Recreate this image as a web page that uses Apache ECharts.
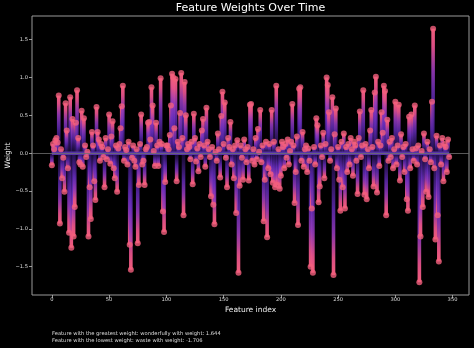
<!DOCTYPE html>
<html>
<head>
<meta charset="utf-8">
<script src="https://cdn.jsdelivr.net/npm/echarts@6/dist/echarts.min.js"></script>
<style>
  html, body { margin: 0; padding: 0; background: #000; }
  #chart { width: 474px; height: 348px; }
</style>
</head>
<body>
<div id="chart"></div>
<script>
// Final learned weight of every feature (index = position in this list)
const weights = [
  -0.16, 0.12, 0.05, 0.17, 0.20, 0.14, 0.76, -0.93, 0.05, -0.33,
  -0.06, -0.51, 0.66, 0.30, -0.20, -1.05, 0.74, -1.25, 0.45, -1.10,
  -0.71, 0.40, 0.83, 0.20, -0.12, -0.15, 0.56, -0.18, 0.46, 0.10,
  -0.05, 0.02, -1.10, -0.45, -0.87, 0.28, 0.10, -0.37, -0.62, 0.61,
  0.28, 0.18, -0.10, 0.12, 0.08, -0.05, -0.45, 0.20, -0.08, 0.05,
  0.51, -0.14, 0.22, 0.42, -0.20, -0.33, 0.10, -0.51, 0.06, 0.12,
  0.33, 0.62, 0.89, -0.10, 0.08, 0.04, -0.15, 0.15, -1.21, -1.54,
  -0.06, 0.10, -0.10, -0.18, 0.05, -1.19, -0.42, 0.12, 0.51, -0.15,
  -0.10, -0.42, 0.05, 0.08, 0.40, 0.41, 0.18, 0.87, 0.63, 0.03,
  -0.17, 0.40, 0.10, -0.17, 0.15, 0.99, 0.12, -0.77, -1.04, -0.38,
  0.10, 0.10, 0.05, 0.24, 0.63, 1.05, 1.00, 0.33, 0.98, -0.37,
  0.15, 0.08, 0.53, 1.06, 0.20, -0.82, 0.94, 0.50, 0.05, 0.12,
  0.08, -0.08, 0.15, -0.41, 0.52, 0.20, -0.11, 0.06, -0.24, 0.12,
  -0.05, 0.30, 0.45, 0.10, -0.18, 0.60, 0.15, 0.05, -0.05, -0.57,
  0.08, -0.68, -0.94, 0.02, -0.10, 0.26, 0.05, -0.32, 0.49, 0.81,
  0.12, 0.67, -0.06, -0.45, 0.20, 0.08, 0.41, -0.15, 0.05, -0.33,
  0.10, -0.79, 0.17, -1.58, -0.43, 0.10, -0.06, -0.35, 0.18, 0.05,
  -0.12, 0.08, -0.36, 0.64, 0.65, -0.10, 0.05, -0.15, 0.20, -0.08,
  0.32, 0.02, 0.57, -0.12, 0.10, -0.90, -0.35, 0.15, -1.11, -0.20,
  0.12, -0.28, 0.57, -0.39, 0.15, -0.45, 0.89, -0.42, 0.05, -0.47,
  -0.30, 0.15, 0.08, -0.20, 0.12, -0.06, 0.18, -0.15, 0.03, 0.15,
  0.65, 0.10, -0.66, -0.25, 0.22, -0.95, 0.85, 0.87, -0.10, 0.28,
  -0.18, 0.05, 0.10, -0.25, 0.06, -0.10, -1.50, -0.73, -1.58, 0.08,
  -0.15, 0.46, 0.37, -0.65, -0.44, 0.10, -0.05, 0.27, -0.33, 0.12,
  1.00, 0.90, 0.54, -0.10, 0.05, 0.74, -1.61, 0.25, 0.59, -0.20,
  0.08, -0.35, -0.76, 0.15, -0.45, 0.26, -0.73, 0.08, -0.25, 0.12,
  -0.15, 0.20, 0.05, -0.30, 0.15, 0.10, -0.10, -0.54, 0.20, 0.55,
  -0.05, 0.10, 0.83, -0.55, 0.12, -0.61, 0.05, -0.20, 0.30, 0.57,
  0.08, -0.44, 0.80, 1.01, -0.52, 0.15, -0.17, 0.10, 0.54, 0.27,
  0.89, 0.82, -0.82, 0.44, -0.10, 0.15, -0.05, 0.20, -0.20, 0.05,
  0.68, -0.15, 0.10, 0.64, -0.36, 0.25, -0.05, 0.08, -0.25, 0.12,
  -0.61, -0.76, 0.48, -0.20, 0.51, 0.05, -0.10, 0.63, 0.06, -0.15,
  0.10, -1.706, -1.10, 0.03, -0.71, 0.26, -0.08, -0.51, 0.15, -0.58,
  0.05, -0.12, 0.68, 1.644, -0.20, -1.14, 0.23, -0.82, -1.43, 0.10,
  -0.15, 0.20, -0.37, 0.12, 0.08, -0.25, 0.18, -0.05
];

// Vocabulary word behind each extreme feature
const greatestWord = 'wonderfully';
const lowestWord = 'waste';

const xTicks = [0, 50, 100, 150, 200, 250, 300, 350];
const yTicks = [-1.5, -1.0, -0.5, 0.0, 0.5, 1.0, 1.5];

const featureIndex = weights.map((_, i) => i);
const trailData = featureIndex.map(i => [i, weights[i]]);
const baseline = featureIndex.map(i => [i, 0]);

// Axis limits with a 5% margin on each side of the data
const n = weights.length - 1;
const wMax = Math.max(...weights);
const wMin = Math.min(...weights);
const wSpan = wMax - wMin;
const xMin = -0.05 * n, xMax = n * 1.05;
const yMin = wMin - 0.05 * wSpan, yMax = wMax + 0.05 * wSpan;

const FONT = 'DejaVu Sans';

// Colour stops of a trail: offset 0 is the final weight, offset 1 the starting point
const trailStops = [
  { offset: 0.00, color: 'rgba(242, 94, 124, 1)' },
  { offset: 0.14, color: 'rgba(230, 82, 138, 0.95)' },
  { offset: 0.34, color: 'rgba(150, 58, 186, 0.9)' },
  { offset: 0.55, color: 'rgba(104, 46, 192, 0.8)' },
  { offset: 1.00, color: 'rgba(58, 26, 128, 0.35)' }
];

const fmtY = v => (v < 0 ? '\u2212' : '') + Math.abs(v).toFixed(1);

const chart = echarts.init(document.getElementById('chart'), null, { renderer: 'canvas' });

chart.setOption({
  backgroundColor: '#000',
  animation: false,
  textStyle: { fontFamily: FONT },
  grid: {
    left: 32, right: 5, top: 16, bottom: 53,
    containLabel: false, outerBoundsMode: 'none',
    show: true, borderColor: '#9a9a9a', borderWidth: 1, backgroundColor: 'transparent'
  },
  xAxis: {
    type: 'value', min: xMin, max: xMax,
    axisLine: { show: false, onZero: false },
    splitLine: { show: false },
    axisTick: { show: true, length: 3, customValues: xTicks, lineStyle: { color: '#bbb', width: 0.8 } },
    axisLabel: { customValues: xTicks, fontSize: 5.2, color: '#ddd', margin: 2, fontFamily: FONT },
    name: 'Feature index', nameLocation: 'middle', nameGap: 11, nameMoveOverlap: false,
    nameTextStyle: { fontSize: 7.5, color: '#eee', fontFamily: FONT }
  },
  yAxis: {
    type: 'value', min: yMin, max: yMax,
    axisLine: { show: false, onZero: false },
    splitLine: { show: false },
    axisTick: { show: true, length: 3, customValues: yTicks, lineStyle: { color: '#bbb', width: 0.8 } },
    axisLabel: { customValues: yTicks, fontSize: 5.2, color: '#ddd', margin: 4, fontFamily: FONT, formatter: fmtY },
    name: 'Weight', nameLocation: 'middle', nameGap: 20, nameRotate: 90, nameMoveOverlap: false,
    nameTextStyle: { fontSize: 7.5, color: '#eee', fontFamily: FONT }
  },
  series: [
    {
      // weight trail from the start value to the final value
      type: 'bar',
      data: trailData,
      barWidth: 3.6,
      z: 2,
      itemStyle: {
        color: p => {
          const up = p.value[1] >= 0;
          return new echarts.graphic.LinearGradient(0, up ? 0 : 1, 0, up ? 1 : 0, trailStops);
        }
      }
    },
    {
      // early-epoch weights, all close to zero
      type: 'line',
      data: baseline,
      showSymbol: false,
      z: 3,
      lineStyle: { color: '#5634a6', width: 3.5 },
      markLine: {
        silent: true, symbol: 'none',
        label: { show: false },
        lineStyle: { color: '#6e6e6e', width: 0.8, type: 'solid' },
        data: [{ yAxis: 0 }]
      }
    },
    {
      // final weight of each feature
      type: 'scatter',
      data: trailData,
      symbolSize: 6,
      z: 4,
      itemStyle: { color: '#f35f7d' }
    }
  ],
  graphic: [
    {
      type: 'text', x: 250.5, y: 8.5, z: 10,
      style: { text: 'Feature Weights Over Time', fill: '#fff', fontSize: 11, fontFamily: FONT, align: 'center', verticalAlign: 'middle' }
    },
    {
      type: 'text', x: 52, y: 333.5, z: 10,
      style: { text: 'Feature with the greatest weight: ' + greatestWord + ' with weight: ' + wMax.toFixed(3), fill: '#ddd', fontSize: 5.2, fontFamily: FONT, align: 'left', verticalAlign: 'middle' }
    },
    {
      type: 'text', x: 52, y: 341, z: 10,
      style: { text: 'Feature with the lowest weight: ' + lowestWord + ' with weight: ' + wMin.toFixed(3), fill: '#ddd', fontSize: 5.2, fontFamily: FONT, align: 'left', verticalAlign: 'middle' }
    }
  ]
});
</script>
</body>
</html>
